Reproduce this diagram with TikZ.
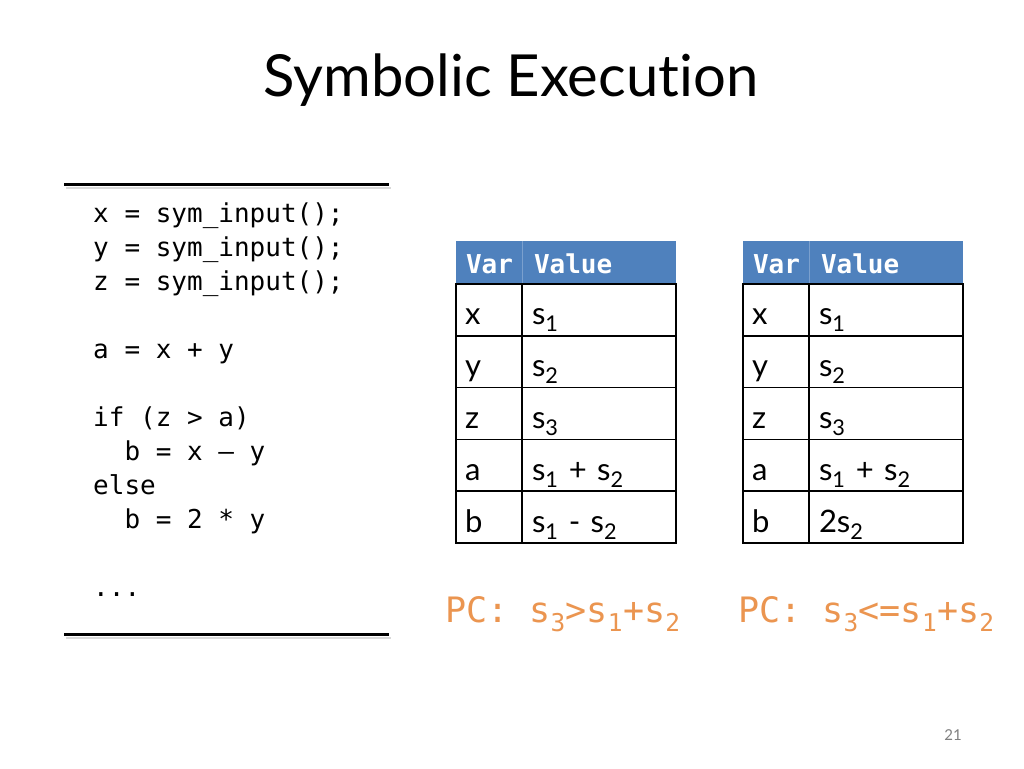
\documentclass[tikz,border=0pt]{standalone}
\usepackage{fontspec}
\setmainfont{Lato}[Ligatures=NoCommon]
\newfontfamily\codefont{DejaVu Sans Mono}
\usetikzlibrary{positioning}

\definecolor{headblue}{HTML}{4F81BD}
\definecolor{pcorange}{HTML}{EB9550}
\definecolor{numgray}{HTML}{7F7F7F}

\newcommand{\svar}[1]{s\textsubscript{#1}}

\tikzset{
  cell/.style={draw, line width=1.6pt, outer sep=0pt, inner ysep=0pt, minimum height=51.8pt,
    text height=34pt, text depth=4pt, align=left, font=\fontsize{31}{34}\selectfont},
  varcell/.style={cell, inner xsep=9pt, text width=48pt, minimum width=66pt},
  valcell/.style={cell, inner xsep=10pt, text width=134pt, minimum width=154pt},
  headcell/.style={fill=headblue, text=white, outer sep=0pt, inner ysep=0pt, minimum height=43pt,
    text height=26pt, text depth=4pt, align=left, font=\codefont\bfseries\fontsize{26}{28}\selectfont},
  headvar/.style={headcell, inner xsep=10pt, text width=46pt, minimum width=66pt},
  headval/.style={headcell, inner xsep=12pt, text width=130pt, minimum width=154pt},
  headsep/.style={line width=0.8pt, headblue!75!white},
  codeline/.style={anchor=base west, inner sep=0pt, font=\codefont\fontsize{26}{34}\selectfont},
  pclabel/.style={anchor=base west, inner sep=0pt, text=pcorange, font=\codefont\fontsize{35}{40}\selectfont},
  coderule/.style={line width=3pt}
}

\begin{document}
\begin{tikzpicture}[x=1pt, y=-1pt]
  \fill[white] (0,0) rectangle (1024,768);
  \useasboundingbox (0,0) rectangle (1024,768);

  % title
  \node[font=\fontsize{58}{66}\selectfont] (title) at (511,80) {Symbolic Execution};

  % code listing
  \draw[line width=2pt, black!15] (66,187.5) -- (391,187.5);
  \draw[coderule] (64,184) -- (389,184);
  \foreach \k/\txt in {1/{x = sym\_input();}, 2/{y = sym\_input();}, 3/{z = sym\_input();},
      5/{a = x + y}, 7/{if (z > a)}, 8/{\ \ b = x \textendash\ y}, 9/{else}, 10/{\ \ b = 2 * y}, 12/{...}}
    \node[codeline] (code\k) at (93, {222+34*(\k-1)}) {\txt};
  \draw[line width=2pt, black!15] (66,637.5) -- (391,637.5);
  \draw[coderule] (64,634) -- (389,634);

  % table: then branch
  \node[headvar] (tA-hvar) at (489,262.5) {Var};
  \node[headval, right=0pt of tA-hvar] (tA-hval) {Value};
  \draw[headsep] (tA-hvar.north east) -- (tA-hvar.south east);
  \foreach \v/\s [count=\i] in {x/\svar{1}, y/\svar{2}, z/\svar{3},
      a/{\svar{1} + \svar{2}}, b/{\svar{1} - \svar{2}}} {
    \node[varcell] (tA-var\i) at (489, {284+51.8*\i-25.9}) {\v};
    \node[valcell, right=0pt of tA-var\i] (tA-val\i) {\s};
  }

  % table: else branch
  \node[headvar] (tB-hvar) at (776,262.5) {Var};
  \node[headval, right=0pt of tB-hvar] (tB-hval) {Value};
  \draw[headsep] (tB-hvar.north east) -- (tB-hvar.south east);
  \foreach \v/\s [count=\i] in {x/\svar{1}, y/\svar{2}, z/\svar{3},
      a/{\svar{1} + \svar{2}}, b/{2\svar{2}}} {
    \node[varcell] (tB-var\i) at (776, {284+51.8*\i-25.9}) {\v};
    \node[valcell, right=0pt of tB-var\i] (tB-val\i) {\s};
  }

  % path conditions
  \node[pclabel] (pcA) at (445,622) {PC: \svar{3}>\svar{1}+\svar{2}};
  \node[pclabel] (pcB) at (738,622) {PC: \svar{3}<=\svar{1}+\svar{2}};

  \node[text=numgray, font=\fontsize{15}{18}\selectfont] (pagenum) at (953,735) {21};
\end{tikzpicture}
\end{document}
